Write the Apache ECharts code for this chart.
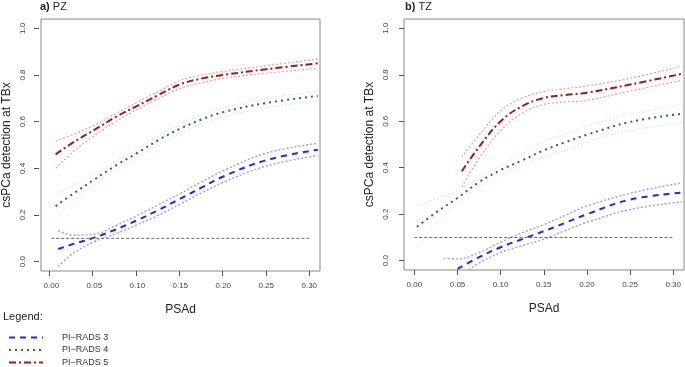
<!DOCTYPE html>
<html>
<head>
<meta charset="utf-8">
<script src="https://cdn.jsdelivr.net/npm/echarts@6/dist/echarts.min.js"></script>
<style>
  html, body { margin: 0; padding: 0; background: #fff; }
  #chart { width: 685px; height: 367px; }
</style>
</head>
<body>
<div id="chart"></div>
<script>
// x grid, panel a) PZ
const xPZ = [0.005, 0.008, 0.025, 0.05, 0.075, 0.1, 0.125, 0.15, 0.175, 0.2, 0.25, 0.31];
const pz5 = [0.46, null, 0.51, 0.565, 0.62, 0.668, 0.715, 0.76, 0.785, 0.80, 0.825, 0.85];
const pz5Hi = [0.517, null, 0.545, 0.585, 0.635, 0.683, 0.73, 0.777, 0.80, 0.815, 0.84, 0.868];
const pz5Lo = [0.40, null, 0.47, 0.54, 0.60, 0.652, 0.70, 0.742, 0.767, 0.785, 0.808, 0.828];
const pz4 = [0.238, null, 0.29, 0.352, 0.412, 0.466, 0.522, 0.57, 0.61, 0.641, 0.68, 0.71];
const pz4Hi = [0.288, null, 0.325, 0.372, 0.428, 0.484, 0.54, 0.588, 0.628, 0.66, 0.70, 0.73];
const pz4Lo = [0.185, null, 0.255, 0.33, 0.395, 0.448, 0.502, 0.55, 0.59, 0.62, 0.66, 0.69];
const pz3 = [null, 0.054, 0.075, 0.103, 0.138, 0.178, 0.222, 0.27, 0.318, 0.365, 0.435, 0.48];
const pz3Hi = [null, 0.133, 0.114, 0.118, 0.155, 0.198, 0.245, 0.292, 0.342, 0.39, 0.465, 0.507];
const pz3Lo = [null, -0.021, 0.035, 0.085, 0.12, 0.158, 0.2, 0.247, 0.295, 0.34, 0.41, 0.455];

// x grid, panel b) TZ
const xTZ = [0.003, 0.025, 0.034, 0.05, 0.055, 0.063, 0.075, 0.1, 0.125, 0.15, 0.175, 0.2, 0.25, 0.31];
const tz4 = [0.146, 0.207, null, 0.27, null, null, 0.338, 0.39, 0.432, 0.475, 0.51, 0.542, 0.597, 0.632];
const tz4Hi = [0.236, 0.265, null, 0.303, null, null, 0.355, 0.41, 0.46, 0.515, 0.545, 0.58, 0.63, 0.672];
const tz4Lo = [0.057, 0.16, null, 0.246, null, null, 0.318, 0.37, 0.408, 0.445, 0.475, 0.51, 0.56, 0.594];
const tz5 = [null, null, null, null, 0.385, null, 0.49, 0.60, 0.665, 0.70, 0.713, 0.723, 0.758, 0.804];
const tz5Hi = [null, null, null, null, 0.446, null, 0.54, 0.645, 0.70, 0.728, 0.74, 0.752, 0.785, 0.837];
const tz5Lo = [null, null, null, null, 0.318, null, 0.44, 0.56, 0.635, 0.672, 0.683, 0.69, 0.73, 0.776];
const tz3 = [null, null, null, -0.035, null, null, 0.015, 0.058, 0.093, 0.127, 0.163, 0.20, 0.263, 0.293];
const tz3Hi = [null, null, 0.01, 0.008, null, null, 0.035, 0.08, 0.12, 0.155, 0.195, 0.235, 0.29, 0.335];
const tz3Lo = [null, null, null, null, null, -0.04, -0.01, 0.035, 0.065, 0.093, 0.13, 0.165, 0.22, 0.253];

const xTicks = [0, 0.05, 0.1, 0.15, 0.2, 0.25, 0.3];
const yTicks = [0, 0.2, 0.4, 0.6, 0.8, 1.0];
const refX = [0, 0.3];
const refY = [0.1, 0.1];
const names = ['PI−RADS 3', 'PI−RADS 4', 'PI−RADS 5'];

const font = 'Liberation Sans, Arial, sans-serif';
const X_MIN = -0.012, X_MAX = 0.3125;
const Y_MIN = -0.04, Y_MAX = 1.04;

// plot boxes (left, top, width, height)
const boxes = [
  { left: 39, top: 19, width: 281, height: 252 },
  { left: 404, top: 19, width: 280, height: 251 }
];

function pairs(xs, ys) {
  return xs.map((x, i) => [x, ys[i]]);
}

function xAxisFor(i) {
  return {
    type: 'value', gridIndex: i, min: X_MIN, max: X_MAX,
    name: 'PSAd', nameLocation: 'middle', nameGap: 33,
    nameTextStyle: { fontSize: 12, color: '#222', fontFamily: font },
    splitLine: { show: false },
    axisLine: { show: false, onZero: false },
    axisTick: { show: false },
    axisLabel: {
      customValues: xTicks, fontSize: 8, color: '#444', margin: 11, fontFamily: font,
      formatter: v => v.toFixed(2)
    }
  };
}

function yAxisFor(i) {
  return {
    type: 'value', gridIndex: i, min: Y_MIN, max: Y_MAX,
    name: 'csPCa detection at TBx', nameLocation: 'middle', nameGap: 28, nameRotate: 90,
    nameTextStyle: { fontSize: 12, color: '#222', fontFamily: font },
    splitLine: { show: false },
    axisLine: { show: false, onZero: false },
    axisTick: { show: false },
    axisLabel: {
      customValues: yTicks, fontSize: 8, color: '#444', margin: 14, rotate: 90, fontFamily: font,
      formatter: v => v.toFixed(1)
    }
  };
}

// thin strips just outside each box that only carry the tick marks
function tickAxis(gridIndex, min, max, ticks, pos) {
  return {
    type: 'value', gridIndex: gridIndex, min: min, max: max, position: pos,
    axisLine: { show: false, onZero: false },
    axisTick: { show: true, inside: true, customValues: ticks, length: 5, lineStyle: { color: '#555', width: 1 } },
    axisLabel: { show: false }, splitLine: { show: false }
  };
}

function dummyAxis(gridIndex) {
  return { type: 'value', gridIndex: gridIndex, min: 0, max: 1, show: false };
}

const grids = boxes.map(b => Object.assign({ show: true, borderColor: '#888', borderWidth: 1 }, b))
  .concat(boxes.map(b => ({ left: b.left - 5, top: b.top, width: 5, height: b.height })))
  .concat(boxes.map(b => ({ left: b.left, top: b.top + b.height, width: b.width, height: 5 })));

const xAxes = [xAxisFor(0), xAxisFor(1), dummyAxis(2), dummyAxis(3),
  tickAxis(4, X_MIN, X_MAX, xTicks, 'top'), tickAxis(5, X_MIN, X_MAX, xTicks, 'top')];
const yAxes = [yAxisFor(0), yAxisFor(1),
  tickAxis(2, Y_MIN, Y_MAX, yTicks, 'left'), tickAxis(3, Y_MIN, Y_MAX, yTicks, 'left'),
  dummyAxis(4), dummyAxis(5)];

const styles = {
  3: { main: { color: '#2424f0', width: 2, type: [6, 5] }, band: { color: '#9a9aff', width: 1.4, type: [2, 2] } },
  4: { main: { color: '#1d7d1d', width: 2, type: [2, 4] }, band: { color: '#d2d2d2', width: 1, type: [1, 2] } },
  5: { main: { color: '#a01818', width: 2, type: [7, 3, 2, 3] }, band: { color: '#e3a0a0', width: 1.2, type: [2, 2] } }
};

function curve(name, i, xs, ys, style) {
  return {
    type: 'line', name: name, xAxisIndex: i, yAxisIndex: i,
    data: pairs(xs, ys), smooth: 0.4, connectNulls: true,
    symbol: 'none', silent: true,
    itemStyle: { color: style.color },
    lineStyle: style
  };
}

function panel(i, xs, sets) {
  const out = [];
  sets.forEach(s => {
    const st = styles[s.level];
    out.push(curve('band' + s.level + '_' + i + 'h', i, xs, s.hi, st.band));
    out.push(curve('band' + s.level + '_' + i + 'l', i, xs, s.lo, st.band));
    out.push(curve(names[s.level - 3], i, xs, s.main, st.main));
  });
  out.push(curve('ref' + i, i, refX, refY, { color: '#666', width: 1, type: [3, 2] }));
  return out;
}

const series = [].concat(
  panel(0, xPZ, [
    { level: 4, main: pz4, hi: pz4Hi, lo: pz4Lo },
    { level: 5, main: pz5, hi: pz5Hi, lo: pz5Lo },
    { level: 3, main: pz3, hi: pz3Hi, lo: pz3Lo }
  ]),
  panel(1, xTZ, [
    { level: 4, main: tz4, hi: tz4Hi, lo: tz4Lo },
    { level: 5, main: tz5, hi: tz5Hi, lo: tz5Lo },
    { level: 3, main: tz3, hi: tz3Hi, lo: tz3Lo }
  ])
);

const titleRich = {
  b: { fontWeight: 'bold', fontSize: 11, color: '#222', fontFamily: font },
  n: { fontWeight: 'normal', fontSize: 11, color: '#222', fontFamily: font }
};

let myChart = echarts.init(document.getElementById('chart'), null, { renderer: 'canvas' });
let option = {
  animation: false,
  backgroundColor: '#fff',
  title: [
    { text: '{b|a)} {n|PZ}', left: 40, top: 1, padding: 0,
      textStyle: { fontWeight: 'normal', fontSize: 11, rich: titleRich } },
    { text: '{b|b)} {n|TZ}', left: 405, top: 1, padding: 0,
      textStyle: { fontWeight: 'normal', fontSize: 11, rich: titleRich } },
    { text: 'Legend:', left: 3, top: 311, padding: 0,
      textStyle: { fontSize: 11, fontWeight: 'normal', color: '#222', fontFamily: font } }
  ],
  legend: {
    data: names, orient: 'vertical', left: 8, top: 333, height: 40, padding: 0,
    itemWidth: 34, itemHeight: 8, itemGap: 3.5,
    selectedMode: false,
    itemStyle: { color: 'transparent', borderColor: 'transparent', borderWidth: 0 },
    textStyle: { fontSize: 9, lineHeight: 9, color: '#333', fontFamily: font, padding: [0, 0, 0, 14] }
  },
  grid: grids,
  xAxis: xAxes,
  yAxis: yAxes,
  series: series
};
myChart.setOption(option);
</script>
</body>
</html>
